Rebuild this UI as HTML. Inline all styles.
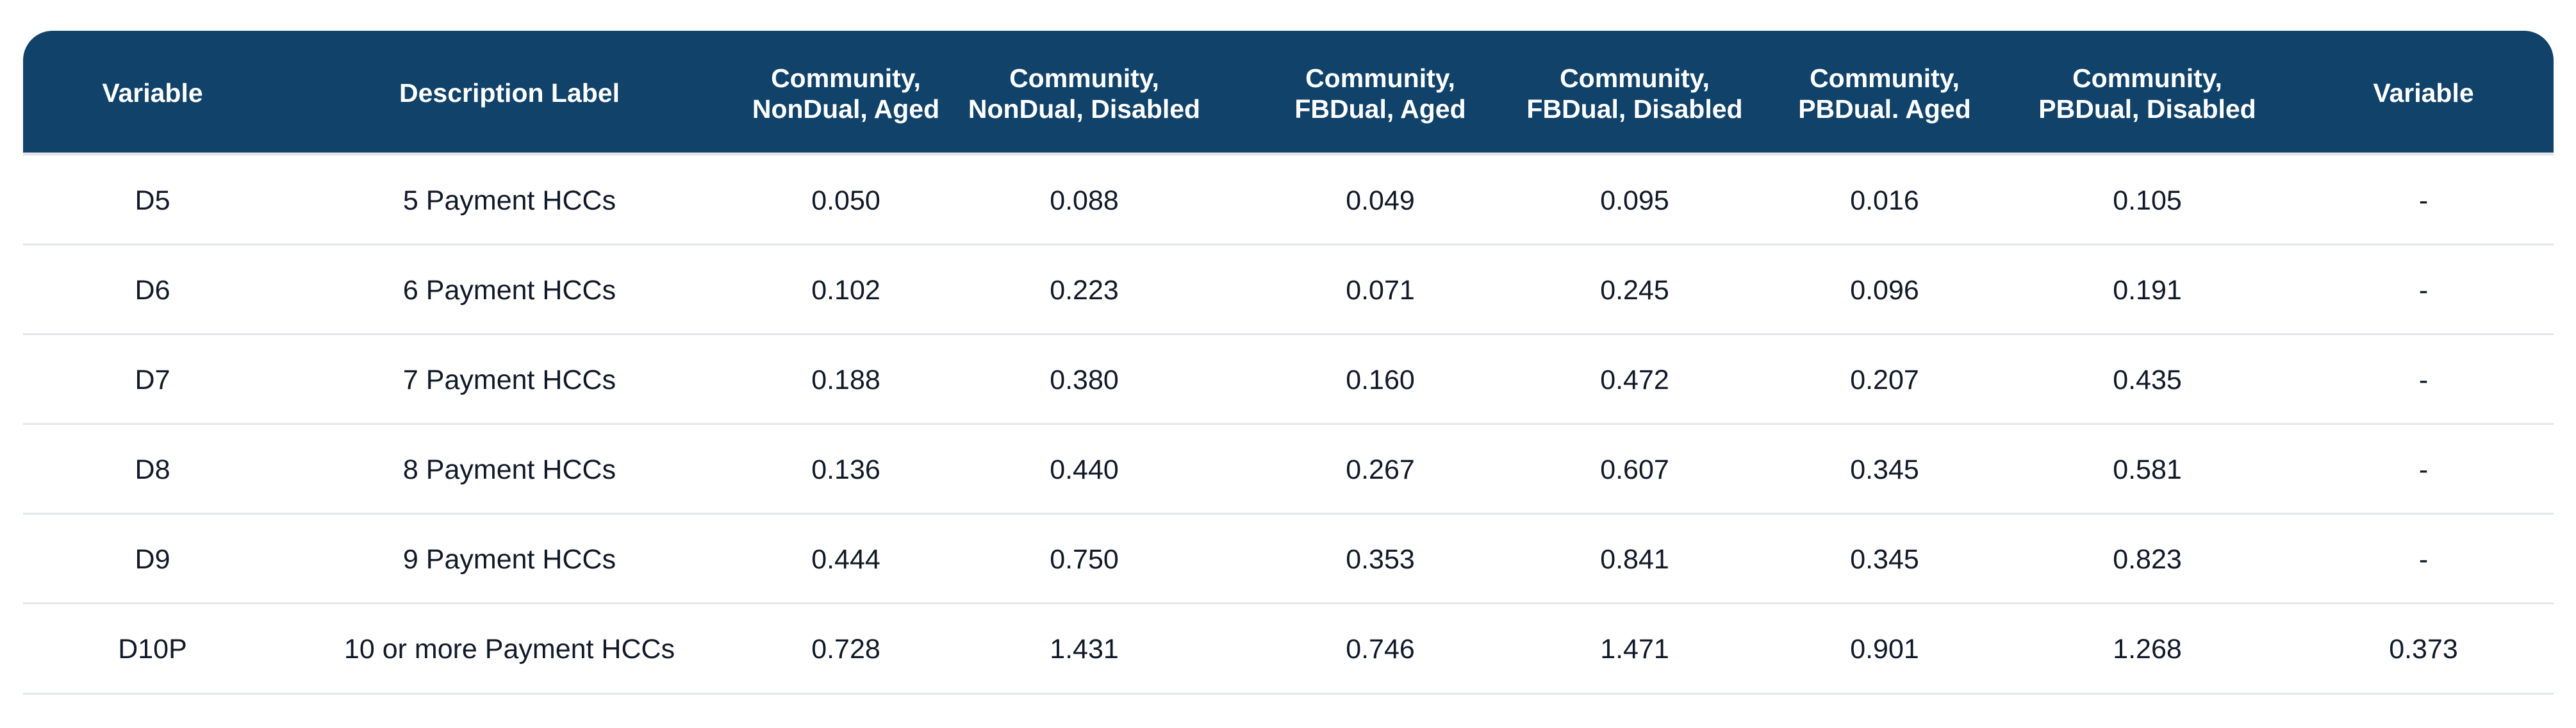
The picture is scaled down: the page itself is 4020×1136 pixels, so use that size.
<!DOCTYPE html>
<html><head><meta charset="utf-8"><style>
html,body{margin:0;padding:0;background:#fff;}
body{width:4020px;height:1136px;position:relative;overflow:hidden;font-family:"Liberation Sans",sans-serif;}
.hdr{position:absolute;left:36px;top:48px;width:3949px;height:190px;background:#10426a;border-radius:46px 46px 0 0;}
.hb{position:absolute;left:36px;top:238px;width:3949px;height:5px;background:#e4e6e9;}
.line{position:absolute;left:36px;width:3949px;height:3px;background:#e4e6e9;}
.h{position:absolute;color:#fff;font-weight:bold;font-size:41px;line-height:48px;text-align:center;transform:translate(-50%,-50%);white-space:nowrap;}
.c{position:absolute;color:#111827;font-size:43px;line-height:48px;text-align:center;transform:translate(-50%,-50%);white-space:nowrap;}
</style></head><body>
<div class="hdr"></div><div class="hb"></div>
<div class="h" style="left:238px;top:145px">Variable</div>
<div class="h" style="left:795px;top:145px">Description Label</div>
<div class="h" style="left:1320px;top:146px">Community,<br>NonDual, Aged</div>
<div class="h" style="left:1692px;top:146px">Community,<br>NonDual, Disabled</div>
<div class="h" style="left:2154px;top:146px">Community,<br>FBDual, Aged</div>
<div class="h" style="left:2551px;top:146px">Community,<br>FBDual, Disabled</div>
<div class="h" style="left:2941px;top:146px">Community,<br>PBDual. Aged</div>
<div class="h" style="left:3351px;top:146px">Community,<br>PBDual, Disabled</div>
<div class="h" style="left:3782px;top:145px">Variable</div>
<div class="line" style="top:380px"></div>
<div class="line" style="top:520px"></div>
<div class="line" style="top:660px"></div>
<div class="line" style="top:800px"></div>
<div class="line" style="top:940px"></div>
<div class="line" style="top:1081px"></div>
<div class="c" style="left:238px;top:313px">D5</div><div class="c" style="left:795px;top:313px">5 Payment HCCs</div><div class="c" style="left:1320px;top:313px">0.050</div><div class="c" style="left:1692px;top:313px">0.088</div><div class="c" style="left:2154px;top:313px">0.049</div><div class="c" style="left:2551px;top:313px">0.095</div><div class="c" style="left:2941px;top:313px">0.016</div><div class="c" style="left:3351px;top:313px">0.105</div><div class="c" style="left:3782px;top:313px">-</div>
<div class="c" style="left:238px;top:453px">D6</div><div class="c" style="left:795px;top:453px">6 Payment HCCs</div><div class="c" style="left:1320px;top:453px">0.102</div><div class="c" style="left:1692px;top:453px">0.223</div><div class="c" style="left:2154px;top:453px">0.071</div><div class="c" style="left:2551px;top:453px">0.245</div><div class="c" style="left:2941px;top:453px">0.096</div><div class="c" style="left:3351px;top:453px">0.191</div><div class="c" style="left:3782px;top:453px">-</div>
<div class="c" style="left:238px;top:593px">D7</div><div class="c" style="left:795px;top:593px">7 Payment HCCs</div><div class="c" style="left:1320px;top:593px">0.188</div><div class="c" style="left:1692px;top:593px">0.380</div><div class="c" style="left:2154px;top:593px">0.160</div><div class="c" style="left:2551px;top:593px">0.472</div><div class="c" style="left:2941px;top:593px">0.207</div><div class="c" style="left:3351px;top:593px">0.435</div><div class="c" style="left:3782px;top:593px">-</div>
<div class="c" style="left:238px;top:733px">D8</div><div class="c" style="left:795px;top:733px">8 Payment HCCs</div><div class="c" style="left:1320px;top:733px">0.136</div><div class="c" style="left:1692px;top:733px">0.440</div><div class="c" style="left:2154px;top:733px">0.267</div><div class="c" style="left:2551px;top:733px">0.607</div><div class="c" style="left:2941px;top:733px">0.345</div><div class="c" style="left:3351px;top:733px">0.581</div><div class="c" style="left:3782px;top:733px">-</div>
<div class="c" style="left:238px;top:873px">D9</div><div class="c" style="left:795px;top:873px">9 Payment HCCs</div><div class="c" style="left:1320px;top:873px">0.444</div><div class="c" style="left:1692px;top:873px">0.750</div><div class="c" style="left:2154px;top:873px">0.353</div><div class="c" style="left:2551px;top:873px">0.841</div><div class="c" style="left:2941px;top:873px">0.345</div><div class="c" style="left:3351px;top:873px">0.823</div><div class="c" style="left:3782px;top:873px">-</div>
<div class="c" style="left:238px;top:1013px">D10P</div><div class="c" style="left:795px;top:1013px">10 or more Payment HCCs</div><div class="c" style="left:1320px;top:1013px">0.728</div><div class="c" style="left:1692px;top:1013px">1.431</div><div class="c" style="left:2154px;top:1013px">0.746</div><div class="c" style="left:2551px;top:1013px">1.471</div><div class="c" style="left:2941px;top:1013px">0.901</div><div class="c" style="left:3351px;top:1013px">1.268</div><div class="c" style="left:3782px;top:1013px">0.373</div>
</body></html>
